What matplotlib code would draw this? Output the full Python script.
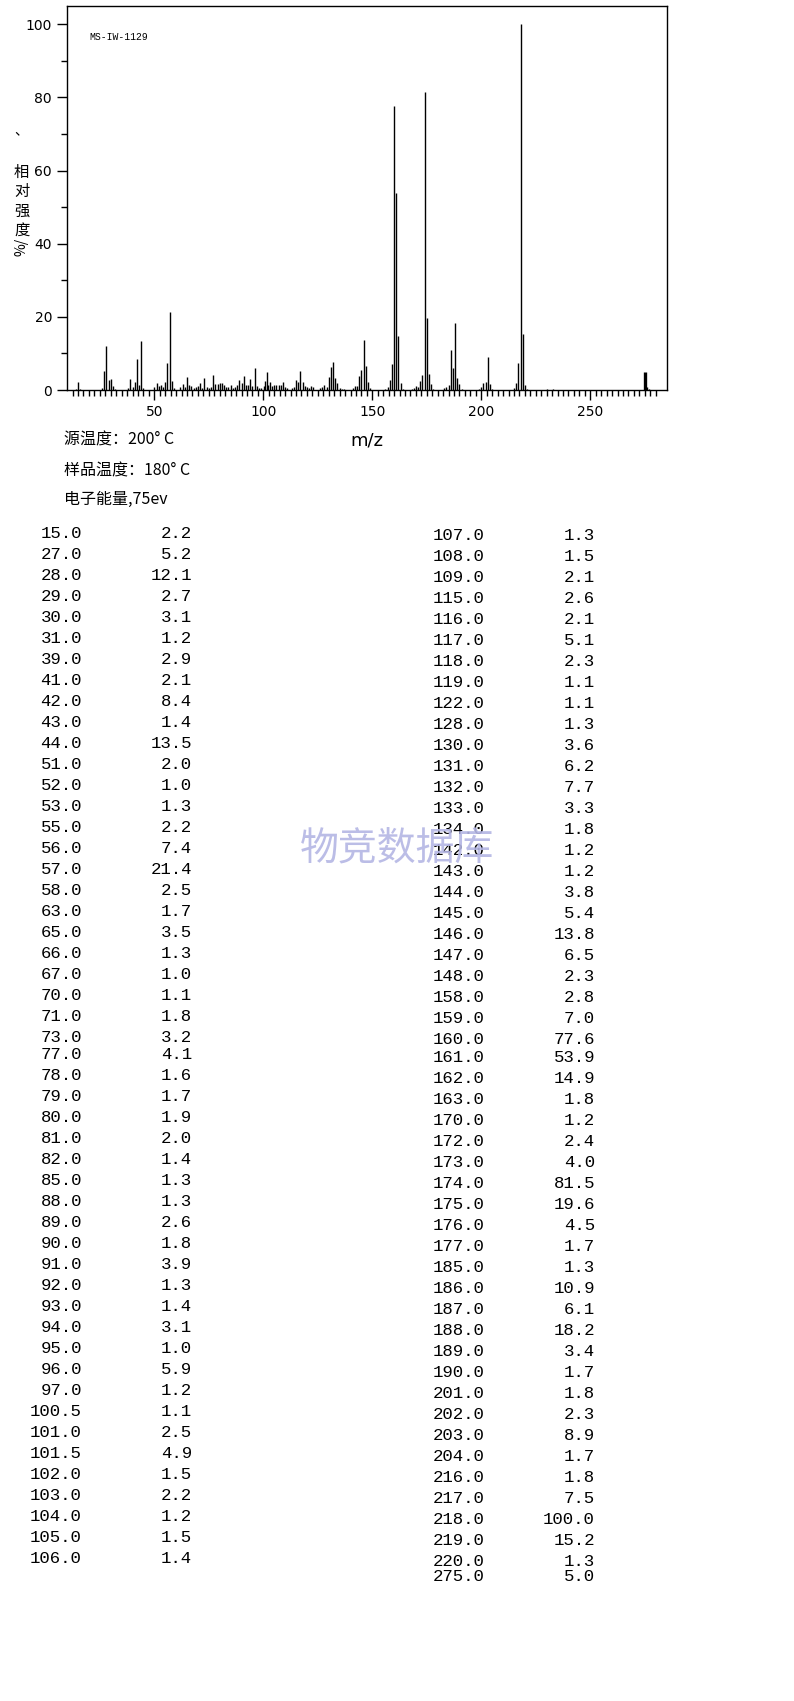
import matplotlib
matplotlib.use("Agg")
import matplotlib.pyplot as plt
from matplotlib.ticker import FixedLocator, MultipleLocator

# peak table, left column
mz_left = [15.0, 27.0, 28.0, 29.0, 30.0, 31.0, 39.0, 41.0, 42.0, 43.0,
           44.0, 51.0, 52.0, 53.0, 55.0, 56.0, 57.0, 58.0, 63.0, 65.0,
           66.0, 67.0, 70.0, 71.0, 73.0, 77.0, 78.0, 79.0, 80.0, 81.0,
           82.0, 85.0, 88.0, 89.0, 90.0, 91.0, 92.0, 93.0, 94.0, 95.0,
           96.0, 97.0, 100.5, 101.0, 101.5, 102.0, 103.0, 104.0, 105.0, 106.0]
int_left = [2.2, 5.2, 12.1, 2.7, 3.1, 1.2, 2.9, 2.1, 8.4, 1.4,
            13.5, 2.0, 1.0, 1.3, 2.2, 7.4, 21.4, 2.5, 1.7, 3.5,
            1.3, 1.0, 1.1, 1.8, 3.2, 4.1, 1.6, 1.7, 1.9, 2.0,
            1.4, 1.3, 1.3, 2.6, 1.8, 3.9, 1.3, 1.4, 3.1, 1.0,
            5.9, 1.2, 1.1, 2.5, 4.9, 1.5, 2.2, 1.2, 1.5, 1.4]

# peak table, right column
mz_right = [107.0, 108.0, 109.0, 115.0, 116.0, 117.0, 118.0, 119.0, 122.0, 128.0,
            130.0, 131.0, 132.0, 133.0, 134.0, 142.0, 143.0, 144.0, 145.0, 146.0,
            147.0, 148.0, 158.0, 159.0, 160.0, 161.0, 162.0, 163.0, 170.0, 172.0,
            173.0, 174.0, 175.0, 176.0, 177.0, 185.0, 186.0, 187.0, 188.0, 189.0,
            190.0, 201.0, 202.0, 203.0, 204.0, 216.0, 217.0, 218.0, 219.0, 220.0,
            275.0]
int_right = [1.3, 1.5, 2.1, 2.6, 2.1, 5.1, 2.3, 1.1, 1.1, 1.3,
             3.6, 6.2, 7.7, 3.3, 1.8, 1.2, 1.2, 3.8, 5.4, 13.8,
             6.5, 2.3, 2.8, 7.0, 77.6, 53.9, 14.9, 1.8, 1.2, 2.4,
             4.0, 81.5, 19.6, 4.5, 1.7, 1.3, 10.9, 6.1, 18.2, 3.4,
             1.7, 1.8, 2.3, 8.9, 1.7, 1.8, 7.5, 100.0, 15.2, 1.3,
             5.0]

# small peaks (<1 %)
mz_minor = [14, 16, 26, 32, 38, 40, 45, 50, 54, 59, 62, 64, 68, 69, 72, 74, 75, 76,
            83, 84, 86, 87, 98, 99, 110, 111, 113, 114, 120, 121, 123, 126, 127,
            129, 135, 136, 137, 141, 149, 156, 157, 164, 168, 169, 171, 178, 183,
            184, 191, 199, 200, 205, 215, 221, 230, 233, 276, 277]
int_minor = [0.4, 0.3, 0.6, 0.4, 0.6, 0.7, 0.5, 0.7, 0.8, 0.5, 0.7, 0.8, 0.6, 0.9,
             0.5, 0.7, 0.6, 0.8, 0.7, 0.8, 0.6, 0.9, 0.5, 0.6, 0.8, 0.6, 0.5, 0.9,
             0.8, 0.5, 0.7, 0.6, 0.9, 0.9, 0.6, 0.4, 0.3, 0.5, 0.6, 0.4, 0.7, 0.3,
             0.4, 0.5, 0.8, 0.4, 0.5, 0.8, 0.4, 0.4, 0.8, 0.4, 0.6, 0.3, 0.3, 0.3,
             0.8, 0.4]

W, H = 794, 1701
fig = plt.figure(figsize=(W / 100, H / 100), dpi=100)


def fx(x):
    return x / W


def fy(y):
    return 1 - y / H


ax = fig.add_axes([fx(66.7), fy(390), (667 - 66.7) / W, (390 - 6) / H])
mz_all = mz_left + mz_right + mz_minor
int_all = int_left + int_right + int_minor
lw = [2.4 if m == 275.0 else 1.0 for m in mz_all]
ax.vlines(mz_all, 0, int_all, colors='black', linewidths=lw)

ax.set_xlim(9.8, 285.2)
ax.set_ylim(0, 105)
ax.xaxis.set_major_locator(FixedLocator([50, 100, 150, 200, 250]))
ax.xaxis.set_minor_locator(FixedLocator([12.5 + 2.5 * i for i in range(108)]))
ax.yaxis.set_major_locator(MultipleLocator(20))
ax.yaxis.set_minor_locator(MultipleLocator(10))
ax.tick_params(which='major', direction='out', length=7.5, width=1.0,
               labelsize=10, pad=3, color='black')
ax.tick_params(which='minor', direction='out', length=4, width=1.0, color='black')
for s in ax.spines.values():
    s.set_linewidth(1.0)

ax.text(0.038, 0.92, 'MS-IW-1129', transform=ax.transAxes, fontsize=7,
        family='Liberation Mono', va='center')

cjk = ['Noto Sans CJK SC', 'DejaVu Sans']

# vertical y label
fig.text(fx(21.7), fy(130), '、', fontsize=10, family=cjk, ha='center', va='center')
for i, ch in enumerate('相对强度'):
    fig.text(fx(21.7), fy(172 + 19.5 * i), ch, fontsize=11, family=cjk,
             ha='center', va='center')
fig.text(fx(21.7), fy(247), '%/', fontsize=10, family=cjk, rotation=90,
         ha='center', va='center')

fig.text(fx(367), fy(440), 'm/z', fontsize=13, family='DejaVu Sans',
         ha='center', va='center')

fig.text(fx(64), fy(440), '源温度：200° C', fontsize=11.5, family=cjk, va='center')
fig.text(fx(64), fy(471), '样品温度：180° C', fontsize=11.5, family=cjk, va='center')
fig.text(fx(64), fy(499), '电子能量,75ev', fontsize=11.5, family=cjk, va='center')

# peak list
mono = 'Liberation Mono'


def draw_column(mzs, vals, x_mz, x_val, y0, shifts):
    for i, (m, v) in enumerate(zip(mzs, vals)):
        y = y0 + 21.0 * i - shifts[i // 25] + 5.8
        fig.text(fx(x_mz), fy(y), f'{m:.1f}', fontsize=12.5, family=mono,
                 ha='right', va='baseline')
        fig.text(fx(x_val), fy(y), f'{v:.1f}', fontsize=12.5, family=mono,
                 ha='right', va='baseline')


draw_column(mz_left, int_left, 82, 192, 532.3, [0, 4])
draw_column(mz_right, int_right, 485, 595, 534.0, [0, 3, 9])

# watermark
fig.text(fx(397), fy(849), '物竞数据库', fontsize=28, family=cjk, color='#b4b6e4',
         alpha=0.9, ha='center', va='center', zorder=10)

fig.savefig('out.png', dpi=100)
